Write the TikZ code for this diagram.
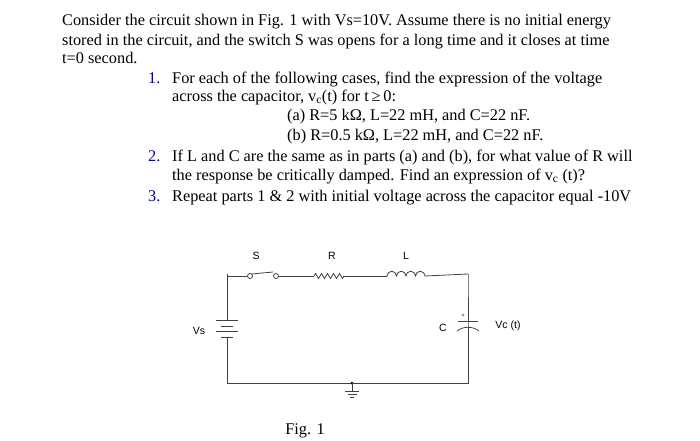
\documentclass[tikz,border=0pt]{standalone}
\usepackage{fontspec}
\setmainfont{Liberation Serif}
\newfontfamily\lsans{Liberation Sans}
\usetikzlibrary{decorations.pathmorphing}
\begin{document}
\begin{tikzpicture}[x=1pt,y=-1pt,
  txt/.style={anchor=base west,inner sep=0pt,font=\fontsize{16.3}{18}\selectfont},
  num/.style={text=blue!60!black},
  lab/.style={inner sep=0pt,font=\lsans\fontsize{10.5}{12}\selectfont},
  wire/.style={line width=0.8pt,black!75}]
\useasboundingbox (0,0) rectangle (700,440);
\node[txt] (l1) at (62,25) {Consider the circuit shown in Fig. 1 with Vs=10V. Assume there is no initial energy};
\node[txt] (l2) at (62,45) {stored in the circuit, and the switch S was opens for a long time and it closes at time};
\node[txt] (l3) at (62,63) {t=0 second.};
\node[txt,num] (n1) at (148,83) {1.};
\node[txt] (i1) at (172,83) {For each of the following cases, find the expression of the voltage};
\node[txt] (i1b) at (172,101) {across the capacitor, v$_{\mathrm{c}}$(t) for t\,≥\,0:};
\node[txt] (ia) at (287,120) {(a) R=5 kΩ, L=22 mH, and C=22 nF.};
\node[txt] (ib) at (287,140) {(b) R=0.5 kΩ, L=22 mH, and C=22 nF.};
\node[txt,num] (n2) at (148,161) {2.};
\node[txt] (i2) at (172,161) {If L and C are the same as in parts (a) and (b), for what value of R will};
\node[txt] (i2b) at (172,180) {the response be critically damped. Find an expression of v$_{\mathrm{c}}$ (t)?};
\node[txt,num] (n3) at (148,201) {3.};
\node[txt] (i3) at (172,201) {Repeat parts 1 \& 2 with initial voltage across the capacitor equal -10V};
% circuit
\coordinate (tl) at (227,274); \coordinate (tr) at (468,274);
\coordinate (bl) at (227,383); \coordinate (br) at (468,383);
\coordinate (gnd) at (352,383);
\node[draw,circle,inner sep=0pt,minimum size=5pt,wire] (s1) at (250,276) {};
\node[draw,circle,inner sep=0pt,minimum size=5pt,wire] (s2) at (276,276) {};
\draw[wire] (tl) -- (227,276) -- (s1.west);
\draw[wire] (s1.north east) -- (273,272);
\coordinate (r1) at (314,276); \coordinate (r2) at (344,276);
\coordinate (ind1) at (387,276); \coordinate (ind2) at (425,276);
\draw[wire] (s2.east) -- (r1);
\draw[wire,decorate,decoration={zigzag,segment length=6pt,amplitude=2.5pt}] (r1) -- (r2);
\draw[wire] (r2) -- (ind1);
\draw[wire] (ind1) \foreach \i in {0,...,3} {arc[start angle=180,end angle=0,radius=4.75pt]};
\draw[wire] (ind2) -- (tr);
% battery
\draw[wire] (tl) -- (227,320);
\draw[wire] (216,320) -- (238,320);
\draw[wire] (221,326) -- (233,326);
\draw[wire] (216,331) -- (238,331);
\draw[wire] (221,337) -- (233,337);
\draw[wire] (227,337) -- (bl) -- (br) -- (tr) -- (468,321);
% capacitor
\draw[wire] (458,321) -- (478,321);
\draw[wire] (457,331) .. controls (463,326) and (473,326) .. (479,331);
\draw[wire] (468,327) -- (br);
\node[lab,font=\lsans\fontsize{6}{6}\selectfont] (plus) at (463,316) {+};
% ground
\fill (gnd) circle (1.5pt);
\draw[wire] (gnd) -- (352,391);
\draw[wire] (345,391) -- (359,391) (347.5,394) -- (356.5,394) (350,397) -- (354,397);
% labels
\node[lab] (S) at (256,256) {S};
\node[lab] (R) at (332,256) {R};
\node[lab] (L) at (406,256) {L};
\node[lab] (Vs) at (199,331) {Vs};
\node[lab] (C) at (443,328) {C};
\node[lab] (Vc) at (508,326) {Vc (t)};
\node[txt,anchor=center] (fig) at (305,431) {Fig. 1};
\end{tikzpicture}
\end{document}
